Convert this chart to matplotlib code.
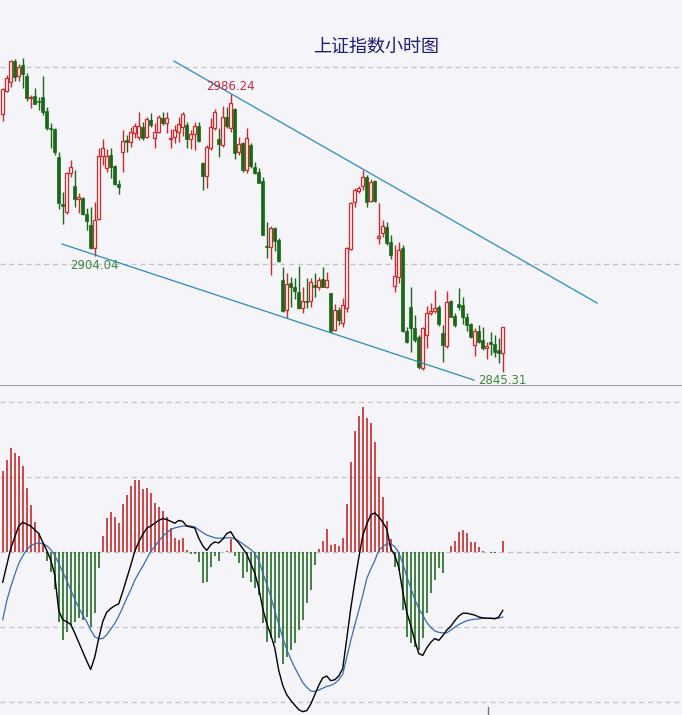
import numpy as np
import matplotlib.pyplot as plt

plt.rcParams['font.family'] = ['Noto Sans CJK SC', 'DejaVu Sans']

# hourly candles, index 0..125
opens = [2976.0, 2988.0, 2992.5, 3003.2, 2995.6, 3001.0, 2995.6, 2984.1, 2985.4, 2982.7,
         2984.9, 2977.7, 2969.2, 2968.5, 2954.5, 2930.5, 2926.6, 2946.0, 2939.6, 2933.0,
         2933.4, 2925.2, 2919.8, 2908.3, 2922.8, 2955.0, 2948.6, 2955.3, 2949.7, 2940.6,
         2957.0, 2962.9, 2962.1, 2966.7, 2964.3, 2969.7, 2964.3, 2973.1, 2963.8, 2966.9,
         2974.0, 2971.7, 2963.3, 2964.3, 2967.2, 2969.7, 2970.6, 2963.3, 2965.8, 2970.1,
         2951.1, 2944.7, 2958.7, 2968.9, 2963.3, 2960.4, 2974.5, 2969.2, 2978.5, 2957.0,
         2961.3, 2947.7, 2960.4, 2949.4, 2946.9, 2942.3, 2909.1, 2908.5, 2918.1, 2912.2,
         2891.9, 2876.7, 2890.2, 2888.2, 2885.8, 2877.8, 2881.4, 2881.2, 2889.3, 2888.2,
         2892.4, 2888.5, 2885.1, 2866.5, 2876.7, 2869.9, 2877.5, 2907.5, 2931.3, 2937.2,
         2939.6, 2944.0, 2932.1, 2942.3, 2913.0, 2915.6, 2918.9, 2911.3, 2888.8, 2893.3,
         2908.0, 2866.0, 2878.3, 2867.4, 2862.8, 2847.1, 2864.0, 2875.0, 2876.3, 2878.0,
         2864.8, 2858.4, 2881.2, 2873.6, 2879.7, 2879.2, 2873.3, 2869.5, 2858.9, 2866.0,
         2861.4, 2857.2, 2860.6, 2859.2, 2856.3, 2854.7]
closes = [2988.7, 2994.3, 3003.2, 2995.1, 3000.2, 2996.4, 2984.1, 2984.9, 2981.2, 2982.1,
          2977.3, 2968.9, 2968.5, 2957.0, 2930.8, 2929.6, 2946.0, 2949.4, 2933.0, 2933.9,
          2925.2, 2922.0, 2908.3, 2922.3, 2954.8, 2959.0, 2955.0, 2949.4, 2940.5, 2938.9,
          2962.4, 2961.8, 2967.2, 2970.1, 2970.2, 2963.8, 2973.6, 2970.6, 2967.2, 2974.5,
          2971.7, 2974.0, 2964.1, 2968.0, 2971.1, 2976.1, 2963.3, 2966.0, 2970.1, 2962.6,
          2944.8, 2959.5, 2969.7, 2977.3, 2960.9, 2974.8, 2970.1, 2981.9, 2956.5, 2960.8,
          2947.7, 2963.8, 2949.7, 2946.3, 2941.3, 2914.7, 2908.5, 2918.1, 2911.8, 2901.7,
          2876.3, 2889.9, 2888.5, 2886.3, 2877.5, 2881.4, 2880.7, 2890.7, 2888.5, 2891.9,
          2888.5, 2891.9, 2866.1, 2876.7, 2871.6, 2879.2, 2908.0, 2931.1, 2937.6, 2938.7,
          2944.3, 2931.6, 2941.8, 2932.1, 2914.2, 2919.3, 2910.5, 2904.6, 2893.9, 2907.1,
          2866.1, 2860.6, 2867.4, 2861.4, 2847.9, 2867.4, 2875.0, 2876.1, 2877.5, 2869.5,
          2858.9, 2880.9, 2873.3, 2869.0, 2878.3, 2873.3, 2869.0, 2862.8, 2866.1, 2860.6,
          2857.2, 2858.5, 2859.2, 2855.5, 2854.7, 2868.2]
highs = [2989.3, 2995.9, 3003.6, 3004.1, 3001.4, 3004.4, 2996.8, 2985.8, 2989.2, 2984.9,
         2995.4, 2979.8, 2971.4, 2969.2, 2956.7, 2936.7, 2946.9, 2952.8, 2947.7, 2935.9,
         2934.2, 2928.3, 2929.1, 2931.6, 2958.7, 2963.5, 2958.2, 2958.7, 2950.3, 2942.6,
         2968.0, 2965.5, 2969.7, 2971.7, 2977.0, 2972.2, 2974.5, 2976.8, 2971.7, 2975.6,
         2977.3, 2977.0, 2968.4, 2970.6, 2974.8, 2977.0, 2972.2, 2968.0, 2972.2, 2972.2,
         2951.9, 2960.4, 2974.0, 2978.5, 2968.9, 2980.2, 2979.8, 2986.24, 2979.0, 2964.6,
         2962.1, 2968.9, 2961.3, 2951.9, 2948.6, 2944.0, 2921.5, 2919.3, 2918.9, 2913.0,
         2898.3, 2895.3, 2893.3, 2892.7, 2899.0, 2888.5, 2892.7, 2892.7, 2895.6, 2893.3,
         2898.6, 2896.1, 2885.4, 2879.7, 2878.3, 2882.6, 2908.5, 2931.6, 2938.4, 2939.6,
         2947.7, 2945.2, 2943.0, 2942.6, 2931.1, 2922.3, 2921.5, 2914.7, 2909.6, 2911.3,
         2909.6, 2868.2, 2888.2, 2874.1, 2864.0, 2868.2, 2878.7, 2880.4, 2886.8, 2879.2,
         2869.0, 2886.4, 2881.7, 2875.0, 2887.7, 2883.1, 2875.0, 2870.2, 2867.4, 2869.0,
         2868.2, 2860.6, 2865.6, 2864.0, 2862.3, 2868.2]
lows = [2972.7, 2987.5, 2989.7, 2992.9, 2992.9, 2989.2, 2982.9, 2979.3, 2981.0, 2978.2,
        2975.6, 2968.0, 2959.0, 2955.3, 2927.9, 2920.2, 2925.2, 2944.3, 2929.1, 2925.7,
        2924.9, 2917.3, 2907.6, 2904.04, 2922.3, 2950.3, 2946.9, 2943.8, 2940.1, 2935.4,
        2946.9, 2957.0, 2959.5, 2963.8, 2962.9, 2962.9, 2963.8, 2969.7, 2958.7, 2966.3,
        2970.6, 2966.7, 2959.0, 2961.3, 2961.8, 2965.0, 2958.7, 2958.2, 2957.9, 2962.1,
        2937.6, 2938.4, 2957.9, 2968.0, 2954.5, 2959.5, 2968.9, 2967.2, 2953.3, 2955.3,
        2946.9, 2946.3, 2948.6, 2945.7, 2941.0, 2914.7, 2902.9, 2894.4, 2906.8, 2901.2,
        2875.8, 2872.4, 2878.3, 2882.1, 2877.0, 2875.3, 2877.5, 2878.3, 2883.4, 2886.8,
        2888.2, 2887.7, 2864.8, 2866.1, 2869.0, 2868.2, 2875.8, 2907.1, 2928.8, 2936.2,
        2937.6, 2928.8, 2931.6, 2931.6, 2910.2, 2913.6, 2909.6, 2902.4, 2885.9, 2890.5,
        2865.6, 2860.1, 2855.5, 2860.6, 2846.8, 2846.2, 2857.2, 2874.1, 2875.0, 2868.5,
        2850.4, 2857.2, 2872.9, 2867.9, 2876.7, 2869.5, 2866.1, 2862.3, 2853.3, 2859.7,
        2856.3, 2851.6, 2853.8, 2852.6, 2849.9, 2845.31]

# MACD panel
macd_hist = [4.35, 4.92, 5.55, 5.31, 5.14, 4.60, 3.45, 2.52, 1.63, 1.01,
             0.48, -0.45, -1.03, -1.96, -3.73, -4.68, -4.23, -3.88, -3.70, -3.52,
             -3.61, -3.43, -3.97, -3.25, -0.85, 0.89, 1.81, 2.15, 1.90, 1.58,
             2.58, 3.06, 3.54, 3.86, 3.86, 3.39, 3.41, 3.15, 2.61, 2.43,
             2.22, 1.90, 1.28, 0.78, 0.66, 0.78, 0.12, -0.11, -0.11, -0.50,
             -1.65, -1.57, -0.80, -0.20, -0.45, 0.00, 0.05, 0.71, -0.18, -0.55,
             -1.39, -1.03, -1.57, -1.92, -2.28, -3.79, -4.80, -4.59, -4.85, -4.59,
             -5.96, -5.57, -5.21, -4.85, -4.14, -3.61, -2.72, -2.01, -0.68, 0.18,
             0.62, 1.23, 0.39, 0.44, 0.34, 0.75, 2.58, 4.83, 6.47, 7.27,
             7.73, 7.15, 6.88, 5.87, 4.03, 2.93, 1.67, 0.69, -0.77, -0.94,
             -3.08, -4.50, -4.85, -5.03, -5.21, -4.59, -3.25, -2.15, -1.48, -0.85,
             -1.12, 0.00, 0.35, 0.62, 1.07, 1.19, 1.01, 0.57, 0.57, 0.30,
             0.05, 0.03, -0.03, -0.05, 0.02, 0.62]
dif = [-1.6, -0.7, 0.2, 0.8, 1.4, 1.6, 1.5, 1.4, 1.2, 1.0,
       0.55, 0.1, -0.4, -1.2, -3.1, -3.6, -3.7, -3.85, -4.3, -4.8,
       -5.3, -5.8, -6.25, -5.6, -4.6, -3.7, -3.2, -3.0, -2.85, -2.75,
       -2.1, -1.4, -0.7, 0.05, 0.55, 0.95, 1.28, 1.4, 1.55, 1.7,
       1.8, 1.75, 1.65, 1.55, 1.7, 1.65, 1.4, 1.35, 1.3, 0.75,
       0.35, 0.1, 0.4, 0.55, 0.5, 0.7, 1.0, 1.1, 0.75, 0.5,
       0.2, -0.1, -0.6, -1.1, -1.9, -3.0, -3.8, -4.4, -5.1, -6.3,
       -7.1, -7.6, -7.9, -8.15, -8.4, -8.5, -8.45, -8.1, -7.6, -7.1,
       -6.7, -6.6, -6.85, -6.8, -6.6, -6.2, -4.6, -3.0, -1.6, -0.3,
       0.9, 1.5, 2.0, 2.1, 1.9, 1.6, 1.25, 0.2, -0.15, -0.8,
       -2.1, -3.2, -3.9, -4.7, -5.4, -5.5, -5.1, -4.8, -4.6, -4.7,
       -4.45, -4.15, -3.95, -3.65, -3.4, -3.25, -3.25, -3.3, -3.35, -3.45,
       -3.5, -3.52, -3.52, -3.55, -3.45, -3.1]
dea = [-3.6, -2.6, -1.85, -1.2, -0.6, -0.2, 0.15, 0.35, 0.45, 0.5,
       0.45, 0.35, 0.15, -0.15, -0.6, -1.05, -1.5, -2.0, -2.5, -2.95,
       -3.35, -3.7, -4.15, -4.5, -4.62, -4.6, -4.4, -4.1, -3.8, -3.4,
       -2.95, -2.45, -2.0, -1.5, -1.1, -0.75, -0.35, 0.05, 0.3, 0.6,
       0.85, 1.05, 1.2, 1.3, 1.35, 1.4, 1.4, 1.4, 1.35, 1.2,
       1.05, 0.92, 0.85, 0.77, 0.75, 0.75, 0.77, 0.78, 0.72, 0.6,
       0.45, 0.3, 0.15, -0.05, -0.4, -1.1, -1.7, -2.35, -3.1, -3.85,
       -4.55, -5.2, -5.7, -6.15, -6.55, -6.95, -7.2, -7.4, -7.42, -7.35,
       -7.25, -7.15, -7.1, -7.0, -6.8, -6.5, -5.6, -4.7, -3.9, -3.1,
       -2.3, -1.4, -0.9, -0.45, 0.1, 0.3, 0.45, 0.45, 0.3, 0.0,
       -0.6, -1.3, -1.9, -2.5, -3.0, -3.35, -3.75, -4.0, -4.2, -4.27,
       -4.3, -4.3, -4.15, -4.0, -3.85, -3.75, -3.65, -3.6, -3.57, -3.55,
       -3.52, -3.52, -3.52, -3.52, -3.52, -3.45]

# channel lines (bar index, price)
upper_line = ([42.8, 148.6], [3003.0, 2880.2])
lower_line = ([14.8, 117.8], [2910.2, 2841.1])
high_idx, low1_idx, low2_idx = 57, 23, 125
day_mark = 121.3

title = '上证指数小时图'
bg = '#f4f4f9'
up_col = '#d02828'
dn_col = '#186818'

o = np.array(opens)
c = np.array(closes)
h = np.array(highs)
l = np.array(lows)
x = np.arange(len(o))
rising = c >= o

fig = plt.figure(figsize=(6.82, 7.15), dpi=100, facecolor=bg)
ax = fig.add_axes([0, 0.4601, 1, 0.5399], facecolor=bg)
ax2 = fig.add_axes([0, 0, 1, 0.4601], facecolor=bg)

# candles
ax.vlines(x[rising], l[rising], h[rising], color=up_col, lw=1, zorder=2)
ax.vlines(x[~rising], l[~rising], h[~rising], color=dn_col, lw=1, zorder=2)
body_lo = np.minimum(o, c)
body_h = np.maximum(np.abs(c - o), 0.3)
ax.bar(x[rising], body_h[rising], bottom=body_lo[rising], width=0.72,
       facecolor=bg, edgecolor=up_col, linewidth=0.9, zorder=3)
ax.bar(x[~rising], body_h[~rising], bottom=body_lo[~rising], width=0.8,
       facecolor=dn_col, edgecolor=dn_col, linewidth=0.5, zorder=3)

ax.plot(*upper_line, color='#2a8cbc', lw=0.9, zorder=4)
ax.plot(*lower_line, color='#2a8cbc', lw=0.9, zorder=4)

ax.annotate(f'{highs[high_idx]:.2f}', (high_idx, highs[high_idx]), xytext=(0, 1),
            textcoords='offset points', ha='center', va='bottom',
            fontsize=8.5, color='#c82840', family='DejaVu Sans', zorder=5)
ax.annotate(f'{lows[low1_idx]:.2f}', (low1_idx, lows[low1_idx]), xytext=(0, -2),
            textcoords='offset points', ha='center', va='top',
            fontsize=8.5, color='#3a8a3a', family='DejaVu Sans', zorder=5)
ax.annotate(f'{lows[low2_idx]:.2f}', (low2_idx, lows[low2_idx]), xytext=(0, -1.5),
            textcoords='offset points', ha='center', va='top',
            fontsize=8.5, color='#3a8a3a', family='DejaVu Sans', zorder=5)

ax.text(0.552, 0.878, title, transform=ax.transAxes, ha='center', va='center',
        fontsize=13, color='#1c1c78')

for gy in (3000, 2900):
    ax.axhline(gy, color='#c4c4c8', lw=0.9, ls=(0, (4, 3)), zorder=1)

ax.set_xlim(-0.675, 169.8)
ax.set_ylim(2838.1, 3034.0)
ax.set_xticks([])
ax.set_yticks([])
for s in ('top', 'left', 'right'):
    ax.spines[s].set_visible(False)
ax.spines['bottom'].set_color('#8a8a8a')
ax.spines['bottom'].set_linewidth(1.2)

# MACD
hist = np.array(macd_hist)
xh = np.arange(len(hist))
pos = hist >= 0
ax2.vlines(xh[pos], 0, hist[pos], color='#c01818', lw=1.1, zorder=2)
ax2.vlines(xh[~pos], 0, hist[~pos], color='#106010', lw=1.1, zorder=2)
ax2.plot(np.arange(len(dea)), dea, color='#3a6cae', lw=0.9, zorder=3)
ax2.plot(np.arange(len(dif)), dif, color='black', lw=1.0, zorder=4)
for gy in (8, 4, 0, -4, -8):
    ax2.axhline(gy, color='#c4c4c8', lw=0.9, ls=(0, (4, 3)), zorder=1)
ax2.axvline(day_mark, 0, 0.025, color='#777777', lw=1)

ax2.set_xlim(-0.675, 169.8)
ax2.set_ylim(-8.68, 8.87)
ax2.set_xticks([])
ax2.set_yticks([])
for s in ax2.spines.values():
    s.set_visible(False)

fig.savefig('out.png', dpi=100, facecolor=bg)
